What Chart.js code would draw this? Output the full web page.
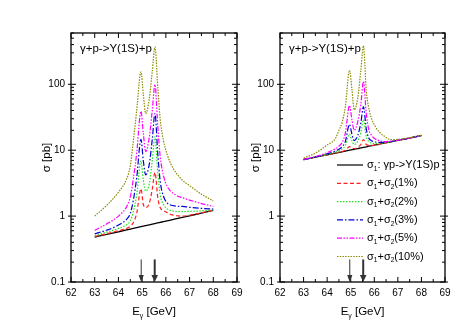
<!DOCTYPE html>
<html>
<head>
<meta charset="utf-8">
<script src="https://cdn.jsdelivr.net/npm/chart.js@4.4.1/dist/chart.umd.min.js"></script>
<style>
  body { margin: 0; background: #fff; }
  #wrap { position: relative; width: 474px; height: 332px; overflow: hidden; }
  canvas { position: absolute; top: 0; }
</style>
</head>
<body>
<div id="wrap">
  <canvas id="left" width="250" height="332" style="left:0;width:250px;height:332px"></canvas>
  <canvas id="right" width="234" height="332" style="left:240px;width:234px;height:332px"></canvas>
</div>
<script>
// photon energy grid (GeV)
const energy = [63, 63.5, 64, 64.35, 64.5, 64.63, 64.77, 64.95, 65.05, 65.15, 65.3, 65.43,
                65.54, 65.66, 65.76, 65.9, 66.04, 66.2, 66.4, 66.7, 67, 67.5, 68];

// left panel, sigma in pb
const sig1Left  = [0.48, 0.527, 0.578, 0.617, 0.635, 0.651, 0.668, 0.69, 0.703, 0.717, 0.737, 0.755,
                   0.771, 0.788, 0.803, 0.824, 0.846, 0.872, 0.905, 0.957, 1.01, 1.11, 1.22];
const pct1Left  = [0.49, 0.54, 0.6, 0.65, 0.7, 0.8, 1.1, 2.6, 1.5, 1.35, 1.55, 2.6,
                   4.6, 1.9, 1.35, 1.22, 1.13, 1.06, 1.02, 1.0, 1.03, 1.12, 1.23];
const pct2Left  = [0.51, 0.57, 0.65, 0.74, 0.85, 1.18, 2.1, 6.9, 3.5, 2.4, 3.1, 7.1,
                   16, 4.4, 2.1, 1.5, 1.3, 1.22, 1.18, 1.17, 1.18, 1.2, 1.24];
const pct3Left  = [0.54, 0.61, 0.73, 0.9, 1.1, 1.75, 3.8, 14.6, 6.9, 4.2, 6.1, 15,
                   36, 8.8, 3.4, 2.0, 1.6, 1.47, 1.42, 1.4, 1.36, 1.31, 1.28];
const pct5Left  = [0.61, 0.76, 1.0, 1.4, 1.95, 3.7, 9, 39, 18, 9.5, 15.6, 41,
                   99, 23, 8.1, 4.1, 2.9, 2.4, 2.1, 1.9, 1.75, 1.55, 1.4];
const pct10Left = [1.0, 1.45, 2.3, 3.7, 5.8, 14, 40, 155, 70, 36, 60, 160,
                   370, 90, 30, 14, 9, 6.3, 4.7, 3.5, 2.9, 2.15, 1.7];

// right panel, sigma in pb
const sig1Right  = [7.2, 7.83, 8.51, 9.02, 9.26, 9.46, 9.69, 9.99, 10.16, 10.33, 10.6, 10.82,
                    11.04, 11.27, 11.5, 11.7, 12.0, 12.3, 12.8, 13.4, 14.1, 15.3, 16.7];
const pct1Right  = [7.2, 7.83, 8.5, 9.05, 9.3, 9.55, 9.95, 11.3, 10.7, 10.6, 11.1, 12.2,
                    14.5, 12.2, 11.8, 11.8, 12.0, 12.3, 12.8, 13.4, 14.1, 15.3, 16.7];
const pct2Right  = [7.2, 7.85, 8.65, 9.3, 9.8, 10.4, 11.8, 17.5, 14, 12.2, 13.8, 18.5,
                    29, 16, 13.6, 12.8, 12.6, 12.6, 12.9, 13.4, 14.1, 15.3, 16.7];
const pct3Right  = [7.2, 7.9, 8.8, 9.7, 10.3, 11.2, 13.5, 24.6, 17.5, 14, 16.8, 26,
                    46, 21, 15.5, 13.8, 13.3, 13.1, 13.1, 13.5, 14.1, 15.3, 16.7];
const pct5Right  = [7.3, 8.0, 9.2, 10.5, 11.5, 13, 18, 47.5, 29, 20, 27, 50,
                    110, 36, 21, 16.5, 14.8, 14, 13.5, 13.7, 14.2, 15.3, 16.7];
const pct10Right = [7.6, 9.0, 12, 15, 20, 26, 45, 163, 85, 41, 62, 165,
                    385, 80, 45, 29, 23, 19, 16.5, 14.5, 14.6, 15.5, 16.9];

// arrows marking the resonance energies
const arrowE = [64.96, 65.53];
const arrowTop = 0.22;

const names = [
  ['σ', '_1', ': γp->Υ(1S)p'],
  ['σ', '_1', '+σ', '_2', '(1%)'],
  ['σ', '_1', '+σ', '_2', '(2%)'],
  ['σ', '_1', '+σ', '_2', '(3%)'],
  ['σ', '_1', '+σ', '_2', '(5%)'],
  ['σ', '_1', '+σ', '_2', '(10%)']
];
const colors = ['#000000', '#ff2020', '#22e022', '#0000d0', '#ff00ff', '#8c8c00'];
const dashes = [[], [4, 2.5], [1.5, 1.5], [6, 2, 1.5, 2], [5, 1.5, 1.5, 1.5, 1.5, 1.5], [1.5, 1.2]];

const FONT = '"Liberation Sans", Arial, sans-serif';

// text with subscripts, parts starting with "_" are subscripts
function drawRich(ctx, parts, x, y, size, align) {
  let w = 0;
  parts.forEach(p => {
    ctx.font = (p[0] == '_' ? size * 0.6 : size) + 'px ' + FONT;
    w += ctx.measureText(p[0] == '_' ? p.slice(1) : p).width;
  });
  if (align == 'center') x -= w / 2;
  ctx.textAlign = 'left';
  ctx.textBaseline = 'middle';
  parts.forEach(p => {
    const sub = p[0] == '_';
    const t = sub ? p.slice(1) : p;
    ctx.font = (sub ? size * 0.6 : size) + 'px ' + FONT;
    ctx.fillText(t, x, sub ? y + size * 0.35 : y);
    x += ctx.measureText(t).width;
  });
}

function seg(ctx, x1, y1, x2, y2) {
  ctx.beginPath();
  ctx.moveTo(x1, y1);
  ctx.lineTo(x2, y2);
  ctx.stroke();
}

const deco = {
  id: 'deco',
  afterDraw(chart, args, o) {
    const {ctx, chartArea: a} = chart;
    const x = chart.scales.x, y = chart.scales.y;
    ctx.save();
    ctx.strokeStyle = '#000';
    ctx.fillStyle = '#000';

    // frame
    ctx.lineWidth = 1.3;
    ctx.strokeRect(a.left, a.top, a.right - a.left, a.bottom - a.top);

    // inward ticks
    ctx.lineWidth = 1;
    for (let i = 0; i <= 14; i++) {
      const e = 62 + i * 0.5;
      const px = x.getPixelForValue(e);
      const len = i % 2 == 0 ? 5 : 3;
      seg(ctx, px, a.bottom, px, a.bottom - len);
      seg(ctx, px, a.top, px, a.top + len);
    }
    [0.1, 1, 10, 100].forEach(d => {
      for (let k = 1; k < 10; k++) {
        const v = d * k;
        if (v > 600) continue;
        const py = y.getPixelForValue(v);
        const len = k == 1 ? 5 : 3;
        seg(ctx, a.left, py, a.left + len, py);
        seg(ctx, a.right, py, a.right - len, py);
        if (k == 1) {
          seg(ctx, a.left, py, a.left - 3, py);
          seg(ctx, a.right, py, a.right + 3, py);
        }
      }
    });

    // arrows
    ctx.strokeStyle = '#333';
    ctx.fillStyle = '#333';
    arrowE.forEach((e, i) => {
      const px = x.getPixelForValue(e);
      const top = y.getPixelForValue(arrowTop);
      const hw = i == 0 ? 2.6 : 3.3;
      ctx.lineWidth = i == 0 ? 1 : 2;
      seg(ctx, px, top, px, a.bottom - 5);
      ctx.beginPath();
      ctx.moveTo(px - hw, a.bottom - 7);
      ctx.lineTo(px + hw, a.bottom - 7);
      ctx.lineTo(px, a.bottom);
      ctx.closePath();
      ctx.fill();
    });

    ctx.fillStyle = '#000';
    // reaction label
    drawRich(ctx, ['γ+p->Υ(1S)+p'], a.left + 9, a.top + 16, 11.5, 'left');
    // x title
    drawRich(ctx, ['E', '_γ', ' [GeV]'], (a.left + a.right) / 2, 312, 11.5, 'center');
    // y title
    ctx.save();
    ctx.translate(a.left - 24, (a.top + a.bottom) / 2);
    ctx.rotate(-Math.PI / 2);
    drawRich(ctx, ['σ [pb]'], 0, 0, 11.5, 'center');
    ctx.restore();

    // legend
    if (o.legend) {
      names.forEach((parts, i) => {
        const ly = 165 + i * 18.3;
        ctx.strokeStyle = colors[i];
        ctx.lineWidth = 1.2;
        ctx.setLineDash(dashes[i]);
        seg(ctx, a.left + 57, ly, a.left + 83, ly);
        ctx.setLineDash([]);
        ctx.fillStyle = '#000';
        drawRich(ctx, parts, a.left + 87, ly, 11, 'left');
      });
    }
    ctx.restore();
  }
};

function makeChart(id, series, axisWidth, padRight, legend) {
  return new Chart(document.getElementById(id), {
    type: 'line',
    data: {
      datasets: series.map((s, i) => ({
        label: names[i].join(''),
        data: energy.map((e, j) => ({x: e, y: s[j]})),
        borderColor: colors[i],
        borderDash: dashes[i],
        borderWidth: i == 0 ? 1.3 : 1.2,
        pointRadius: 0,
        cubicInterpolationMode: 'monotone',
        fill: false,
        order: 5 - i
      }))
    },
    options: {
      responsive: false,
      animation: false,
      layout: {padding: {left: 0, right: padRight, top: 33, bottom: 0}},
      plugins: {legend: {display: false}, tooltip: {enabled: false}, deco: {legend: legend}},
      scales: {
        x: {
          type: 'linear', min: 62, max: 69,
          grid: {display: false, drawTicks: false},
          border: {display: false},
          ticks: {stepSize: 1, padding: 5, maxRotation: 0, color: '#000',
                  font: {family: FONT, size: 10}},
          afterFit: s => { s.height = 50; }
        },
        y: {
          type: 'logarithmic', min: 0.1, max: 600,
          grid: {display: false, drawTicks: false},
          border: {display: false},
          ticks: {
            autoSkip: false, padding: 6, color: '#000',
            font: {family: FONT, size: 10},
            callback: v => {
              const l = Math.log10(v);
              if (Math.abs(l - Math.round(l)) > 1e-6) return '';
              return v < 1 ? v.toFixed(1) : String(Math.round(v));
            }
          },
          afterFit: s => { s.width = axisWidth; }
        }
      }
    },
    plugins: [deco]
  });
}

makeChart('left', [sig1Left, pct1Left, pct2Left, pct3Left, pct5Left, pct10Left], 71, 13, false);
makeChart('right', [sig1Right, pct1Right, pct2Right, pct3Right, pct5Right, pct10Right], 40, 29, true);
</script>
</body>
</html>
